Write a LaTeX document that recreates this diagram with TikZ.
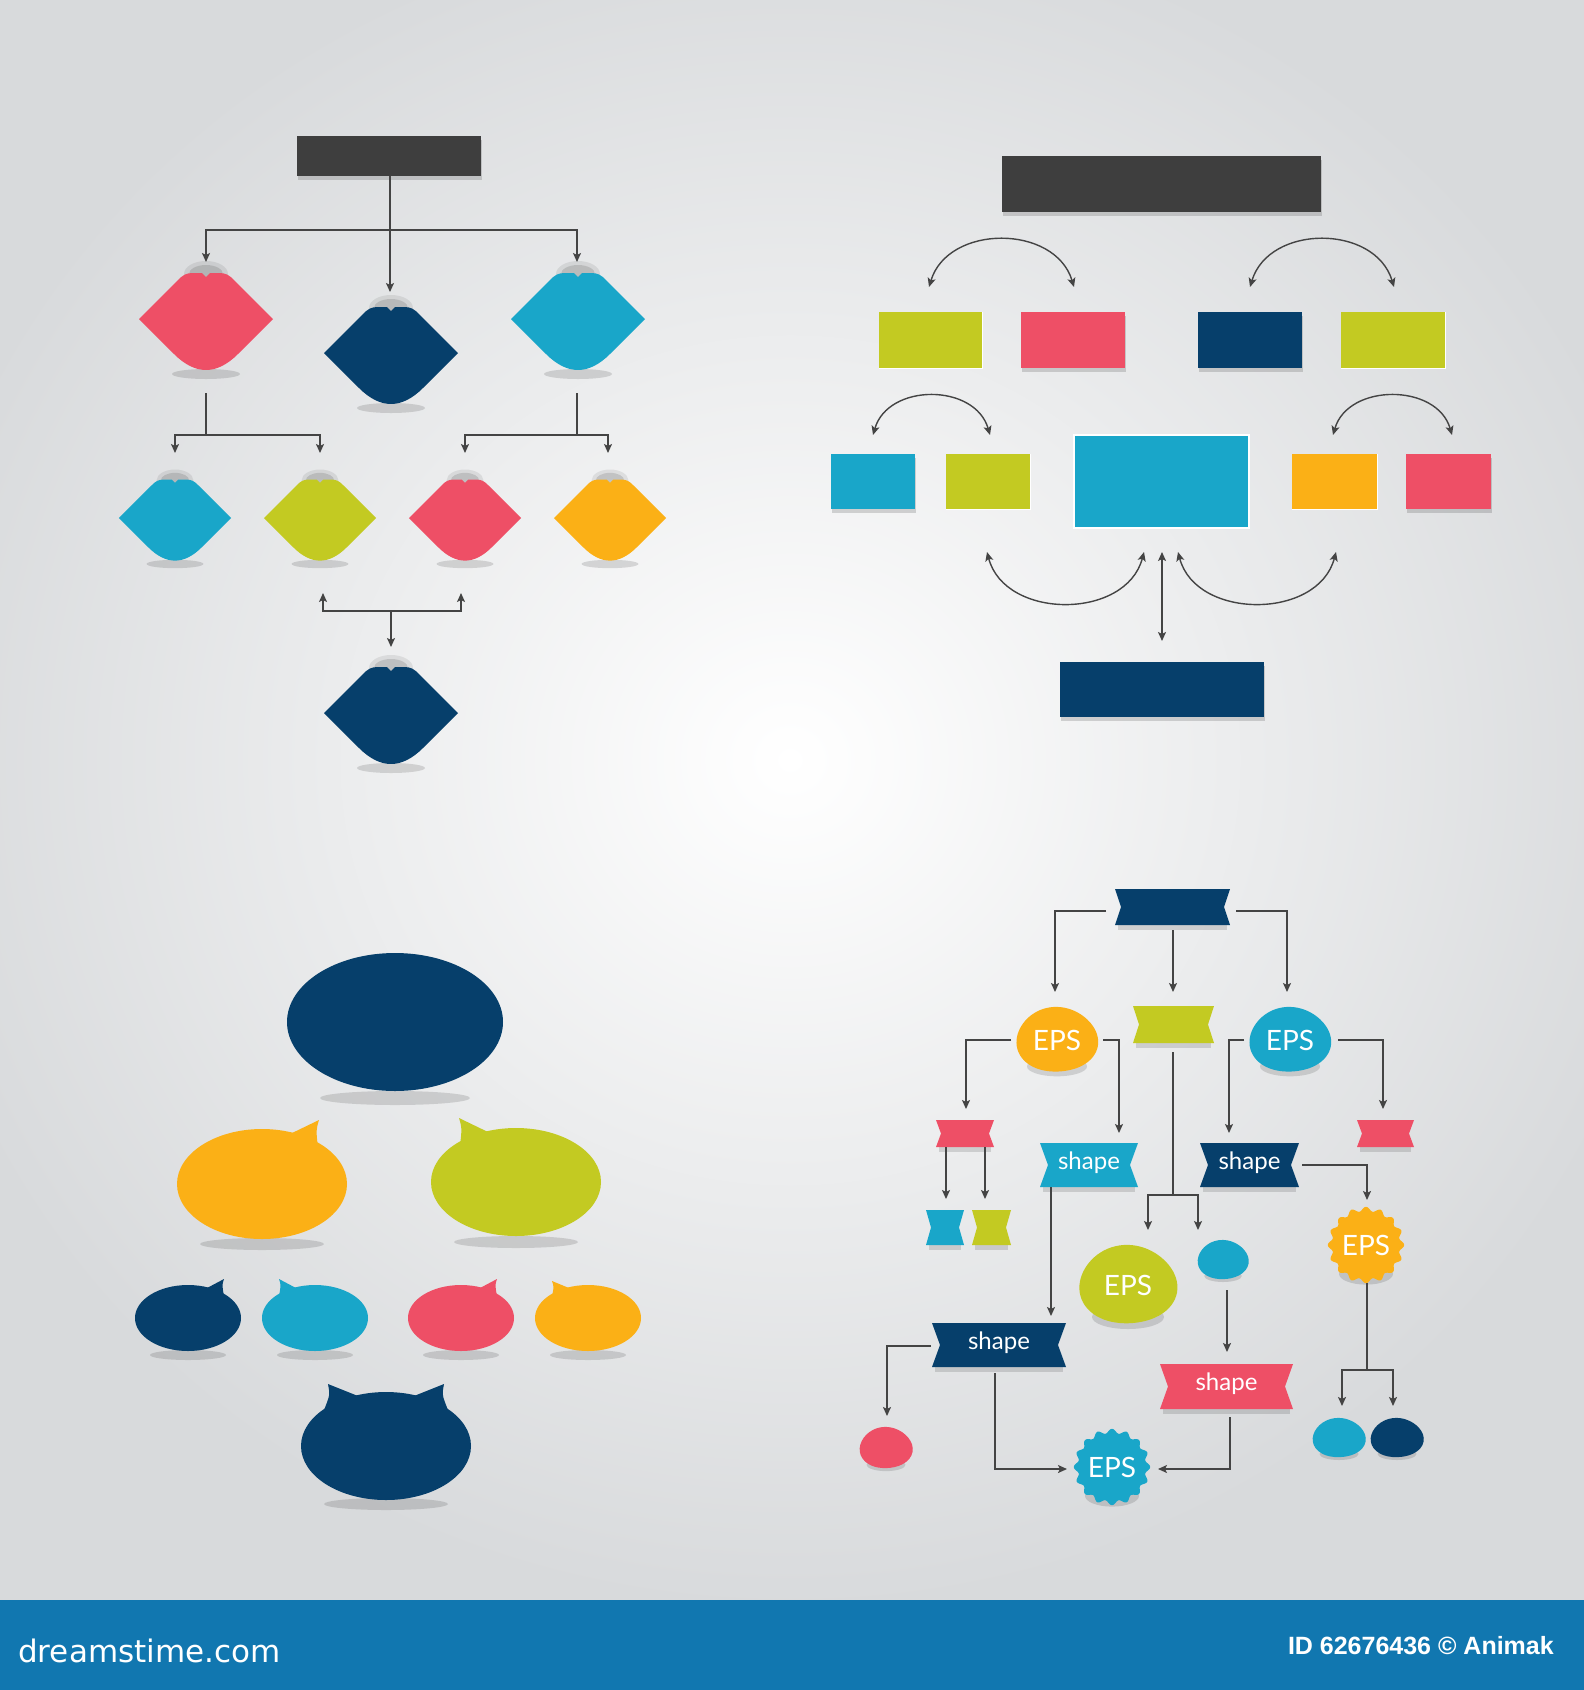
\documentclass[tikz,border=0pt]{standalone}
\usepackage{fontspec}
\setmainfont{Lato}
\newfontfamily\labfont{Lato}
\newfontfamily\logofont{DejaVu Sans}
\newfontfamily\idfont{Liberation Sans}
\usetikzlibrary{arrows.meta,calc}
\definecolor{cRed}{HTML}{EE4F66}
\definecolor{cNavy}{HTML}{063F6B}
\definecolor{cCyan}{HTML}{19A6C9}
\definecolor{cLime}{HTML}{C3CA22}
\definecolor{cOrange}{HTML}{FBB016}
\definecolor{cDark}{HTML}{3E3E3E}
\definecolor{cLine}{HTML}{444444}
\definecolor{cBg}{HTML}{D8DADC}
\definecolor{cBanner}{HTML}{1177B0}
\tikzset{
  tip/.tip={Stealth[length=9pt,width=8pt,inset=2pt]},
  arr/.style={draw=cLine, line width=1.6pt, -tip},
  darr/.style={draw=cLine, line width=1.4pt, tip-tip},
  ln/.style={draw=cLine, line width=1.6pt},
  box/.style={rectangle, inner sep=0pt, outer sep=0pt,
     preaction={fill=black, fill opacity=0.15, transform canvas={xshift=1pt,yshift=-4pt}}},
  inset/.style={rectangle, inner sep=0pt, outer sep=0pt,
     append after command={\pgfextra{\draw[white, line width=1.5pt]
        (\tikzlastnode.north east) -- (\tikzlastnode.south east) -- (\tikzlastnode.south west);}}},
  shd/.style={fill=black, fill opacity=0.13},
  eps/.style={text=white, font=\labfont\fontsize{28}{30}\selectfont, inner sep=0pt},
  shp/.style={text=white, font=\labfont\fontsize{24}{26}\selectfont, inner sep=0pt},
}
% lip diamond: cx, cy, scale, colour
\newcommand\lipdia[4]{%
  \begin{scope}[shift={(#1,#2)},scale=#3]
    \fill[shd] (0,55) ellipse [x radius=34pt, y radius=5pt];
    \fill[black, fill opacity=0.08] (0,-45) ellipse [x radius=22pt, y radius=13pt];
    \fill[black, fill opacity=0.12] (0,-45) ellipse [x radius=17pt, y radius=9pt];
    \fill[#4] (-67,0) -- (-28,-39) .. controls (-23,-44) and (-20,-46) .. (-13,-46)
      -- (-4,-46) -- (0,-42) -- (4,-46) -- (13,-46)
      .. controls (20,-46) and (23,-44) .. (28,-39) -- (67,0) -- (32,35)
      .. controls (10.7,56.3) and (-10.7,56.3) .. (-32,35) -- cycle;
  \end{scope}}
% ribbon banner: cx, cy, w, h, notch, colour
\newcommand\ribbon[6]{%
  \begin{scope}[shift={(#1,#2)}]
    \fill[shd] ({-#3/2+3},{#4/2-2}) rectangle ({#3/2-3},{#4/2+5});
    \fill[#6] ({-#3/2},{-#4/2}) -- ({#3/2},{-#4/2}) -- ({#3/2-#5},0) -- ({#3/2},{#4/2})
      -- ({-#3/2},{#4/2}) -- ({-#3/2+#5},0) -- cycle;
  \end{scope}}
% blob: cx, cy, rx, ry, colour
\newcommand\blob[5]{%
  \fill[shd] (#1,{#2+#4*0.8}) ellipse [x radius=0.75*#3pt, y radius=0.3*#4pt];
  \fill[#5] plot[smooth cycle, domain=0:350, samples=36, variable=\t]
    ({#1+#3*(1+0.025*sin(3*\t+20)+0.02*cos(2*\t))*cos(\t)},
     {#2+#4*(1+0.025*sin(3*\t+20)+0.02*cos(2*\t))*sin(\t)});}
% burst: cx, cy, r, colour
\newcommand\burst[4]{%
  \fill[shd] (#1,{#2+#3*0.8}) ellipse [x radius=0.75*#3pt, y radius=0.3*#3pt];
  \fill[#4] plot[domain=0:360, samples=145, variable=\t]
    ({#1+(#3+2.2*cos(16*\t))*cos(\t)}, {#2+(#3+2.2*cos(16*\t))*sin(\t)}) -- cycle;}
\begin{document}
\begin{tikzpicture}[x=1pt,y=-1pt]
\useasboundingbox (0,0) rectangle (1584,1690);
% background
\fill[cBg] (0,0) rectangle (1584,1600);
\begin{scope}
  \clip (0,0) rectangle (1584,1600);
  \shade[inner color=white, outer color=cBg] (790,760) ellipse [x radius=900pt, y radius=850pt];
\end{scope}
\fill[cBanner] (0,1600) rectangle (1584,1690);
\node[anchor=base west, text=white, font=\logofont\fontsize{31}{31}\selectfont, inner sep=0pt] (logo) at (18,1662) {dreamstime.com};
\node[anchor=base east, text=white, font=\idfont\bfseries\fontsize{25}{25}\selectfont, inner sep=0pt] (idtxt) at (1554,1654) {ID 62676436 © Animak};

% ================= top-left: diamonds =================
\node[box, fill=cDark, minimum width=184pt, minimum height=40pt] (tlTop) at (389,156) {};
\lipdia{206}{319}{1}{cRed}
\lipdia{391}{353}{1}{cNavy}
\lipdia{578}{319}{1}{cCyan}
\lipdia{175}{518}{0.836}{cCyan}
\lipdia{320}{518}{0.836}{cLime}
\lipdia{465}{518}{0.836}{cRed}
\lipdia{610}{518}{0.836}{cOrange}
\lipdia{391}{713}{1}{cNavy}
\coordinate (tlJ) at (390,230);
\coordinate (tlRedIn) at (206,262);
\coordinate (tlNavyIn) at (390,292);
\coordinate (tlCyanIn) at (577,262);
\draw[arr] (tlTop.south -| tlJ) -- (tlNavyIn);
\draw[arr] (tlJ) -| (tlRedIn);
\draw[arr] (tlJ) -| (tlCyanIn);
\coordinate (tlRedOut) at (206,393);
\coordinate (tlRJ) at (206,435);
\coordinate (c1In) at (175,453);
\coordinate (l1In) at (320,453);
\draw[ln] (tlRedOut) -- (tlRJ);
\draw[arr] (tlRJ) -| (c1In);
\draw[arr] (tlRJ) -| (l1In);
\coordinate (tlCyanOut) at (577,393);
\coordinate (tlCJ) at (577,435);
\coordinate (r2In) at (465,453);
\coordinate (o2In) at (608,453);
\draw[ln] (tlCyanOut) -- (tlCJ);
\draw[arr] (tlCJ) -| (r2In);
\draw[arr] (tlCJ) -| (o2In);
\coordinate (bJ) at (391,611);
\coordinate (l2Up) at (323,593);
\coordinate (r2Up) at (461,593);
\coordinate (bnIn) at (391,647);
\draw[arr] (bJ) -| (l2Up);
\draw[arr] (bJ) -| (r2Up);
\draw[arr] (bJ) -- (bnIn);

% ================= top-right: rectangles =================
\node[box, fill=cDark, minimum width=319pt, minimum height=56pt] (trTop) at (1161.5,184) {};
\node[inset, fill=cLime, minimum width=103pt, minimum height=56pt] (trL1) at (930.5,340) {};
\node[box, fill=cRed, minimum width=104pt, minimum height=56pt] (trR1) at (1073,340) {};
\node[box, fill=cNavy, minimum width=104pt, minimum height=56pt] (trN1) at (1250,340) {};
\node[inset, fill=cLime, minimum width=104pt, minimum height=56pt] (trL2) at (1393,340) {};
\node[box, fill=cCyan, minimum width=84pt, minimum height=55pt] (trC2) at (873,481.5) {};
\node[inset, fill=cLime, minimum width=84pt, minimum height=55pt] (trL3) at (988,481.5) {};
\node[rectangle, inner sep=0pt, fill=cCyan, draw=white, line width=1.5pt, minimum width=175pt, minimum height=93pt] (trBig) at (1161.5,481.5) {};
\node[inset, fill=cOrange, minimum width=85pt, minimum height=55pt] (trO2) at (1334.5,481.5) {};
\node[box, fill=cRed, minimum width=85pt, minimum height=55pt] (trR2) at (1448.5,481.5) {};
\node[box, fill=cNavy, minimum width=204pt, minimum height=55pt] (trBot) at (1162,689.5) {};
\coordinate (a1s) at (929,287);  \coordinate (a1e) at (1074,287);
\coordinate (a2s) at (1250,287); \coordinate (a2e) at (1394,287);
\coordinate (a3s) at (873,435);  \coordinate (a3e) at (990,435);
\coordinate (a4s) at (1333,435); \coordinate (a4e) at (1452,435);
\coordinate (a5s) at (987,552);  \coordinate (a5e) at (1144,552);
\coordinate (a6s) at (1178,552); \coordinate (a6e) at (1336,552);
\coordinate (v1s) at (1162,552); \coordinate (v1e) at (1162,641);
\draw[darr] (a1s) .. controls (948,224) and (1055,224) .. (a1e);
\draw[darr] (a2s) .. controls (1269,224) and (1375,224) .. (a2e);
\draw[darr] (a3s) .. controls (888,383) and (975,383) .. (a3e);
\draw[darr] (a4s) .. controls (1348,383) and (1437,383) .. (a4e);
\draw[darr] (a5s) .. controls (1005,620) and (1126,620) .. (a5e);
\draw[darr] (a6s) .. controls (1196,620) and (1318,620) .. (a6e);
\draw[darr] (v1s) -- (v1e);

% ================= bottom-left: speech bubbles =================
\fill[shd] (395,1098) ellipse [x radius=75pt, y radius=7pt];
\fill[cNavy] (395,1022) ellipse [x radius=108pt, y radius=69pt];
\fill[shd] (262,1244) ellipse [x radius=62pt, y radius=6pt];
\fill[cOrange] (262,1184) ellipse [x radius=85pt, y radius=55pt];
\fill[cOrange] (290,1134) -- (319,1120) .. controls (316,1130) .. (318,1148) -- cycle;
\fill[shd] (516,1242) ellipse [x radius=62pt, y radius=6pt];
\fill[cLime] (516,1182) ellipse [x radius=85pt, y radius=54pt];
\fill[cLime] (488,1132) -- (459,1118) .. controls (462,1128) .. (460,1146) -- cycle;
\foreach \cx in {188,315,461,588}{\fill[shd] (\cx,1355) ellipse [x radius=38pt, y radius=5pt];}
\fill[cNavy] (188,1318) ellipse [x radius=53pt, y radius=33pt];
\fill[cNavy] (207,1288) -- (224,1279) .. controls (222,1285) .. (224,1296) -- cycle;
\fill[cCyan] (315,1318) ellipse [x radius=53pt, y radius=33pt];
\fill[cCyan] (296,1288) -- (279,1279) .. controls (281,1285) .. (279,1296) -- cycle;
\fill[cRed] (461,1318) ellipse [x radius=53pt, y radius=33pt];
\fill[cRed] (480,1288) -- (497,1279) .. controls (495,1285) .. (497,1296) -- cycle;
\fill[cOrange] (588,1318) ellipse [x radius=53pt, y radius=33pt];
\fill[cOrange] (569,1288) -- (552,1281) .. controls (554,1287) .. (552,1296) -- cycle;
\fill[shd] (386,1504) ellipse [x radius=62pt, y radius=6pt];
\fill[cNavy] (386,1446) ellipse [x radius=85pt, y radius=54pt];
\fill[cNavy] (358,1396) -- (328,1384) .. controls (330,1395) .. (324,1410) -- cycle;
\fill[cNavy] (414,1396) -- (444,1384) .. controls (442,1395) .. (448,1410) -- cycle;

% ================= bottom-right: mixed flowchart =================
\ribbon{1172.5}{907}{115}{36}{6}{cNavy}
\ribbon{1173.5}{1024.5}{81}{37}{6}{cLime}
\ribbon{965}{1133.5}{58}{27}{5}{cRed}
\ribbon{1385.5}{1133.5}{57}{27}{5}{cRed}
\ribbon{1089}{1165}{98}{44}{8}{cCyan}
\ribbon{1249.5}{1165}{99}{44}{8}{cNavy}
\ribbon{999}{1345}{134}{44}{8}{cNavy}
\ribbon{1226.5}{1386.5}{133}{45}{8}{cRed}
\ribbon{945}{1227.5}{38}{35}{5}{cCyan}
\ribbon{991.5}{1227.5}{39}{35}{5}{cLime}
\blob{1057}{1040}{40}{33}{cOrange}
\blob{1290}{1040}{40}{33}{cCyan}
\blob{1128}{1285}{48}{40}{cLime}
\blob{1223}{1260}{25}{20}{cCyan}
\blob{886}{1448}{26}{21}{cRed}
\blob{1339}{1438}{26}{20}{cCyan}
\blob{1397}{1438}{26}{20}{cNavy}
\burst{1366}{1245}{36}{cOrange}
\burst{1112}{1467}{36}{cCyan}
\node[eps] (epsO) at (1057,1040) {EPS};
\node[eps] (epsC) at (1290,1040) {EPS};
\node[eps] (epsL) at (1128,1285) {EPS};
\node[eps] (epsB1) at (1366,1245) {EPS};
\node[eps] (epsB2) at (1112,1467) {EPS};
\node[shp] (shC) at (1089,1163) {shape};
\node[shp] (shN) at (1249.5,1163) {shape};
\node[shp] (shN2) at (999,1343) {shape};
\node[shp] (shR) at (1226.5,1384) {shape};
% connectors
\coordinate (b0L) at (1106,911);   \coordinate (eOin) at (1055,992);
\coordinate (b0M) at (1173,930);   \coordinate (lbIn) at (1173,992);
\coordinate (b0R) at (1236,911);   \coordinate (eCin) at (1287,992);
\draw[arr] (b0L) -| (eOin);
\draw[arr] (b0M) -- (lbIn);
\draw[arr] (b0R) -| (eCin);
\coordinate (eOL) at (1011,1040);  \coordinate (rsIn) at (966,1109);
\coordinate (eOR) at (1103,1040);  \coordinate (scIn) at (1119,1133);
\coordinate (eCL) at (1244,1040);  \coordinate (snIn) at (1229,1133);
\coordinate (eCR) at (1338,1040);  \coordinate (rs2In) at (1383,1109);
\draw[arr] (eOL) -| (rsIn);
\draw[arr] (eOR) -| (scIn);
\draw[arr] (eCL) -| (snIn);
\draw[arr] (eCR) -| (rs2In);
\coordinate (lbOut) at (1173,1052); \coordinate (lbJ) at (1173,1195);
\coordinate (elIn) at (1148,1230);  \coordinate (ecIn) at (1198,1230);
\draw[ln] (lbOut) -- (lbJ);
\draw[arr] (lbJ) -| (elIn);
\draw[arr] (lbJ) -| (ecIn);
\coordinate (rsO1) at (946,1147);  \coordinate (hgC) at (946,1199);
\coordinate (rsO2) at (985,1147);  \coordinate (hgL) at (985,1199);
\draw[arr] (rsO1) -- (hgC);
\draw[arr] (rsO2) -- (hgL);
\coordinate (scOut) at (1051,1187); \coordinate (sn2In) at (1051,1316);
\draw[arr] (scOut) -- (sn2In);
\coordinate (snOut) at (1302,1165); \coordinate (bOIn) at (1367,1200);
\draw[arr] (snOut) -| (bOIn);
\coordinate (ecOut) at (1227,1290); \coordinate (srIn) at (1227,1352);
\draw[arr] (ecOut) -- (srIn);
\coordinate (bOOut) at (1367,1283); \coordinate (bOJ) at (1367,1370);
\coordinate (bcIn) at (1342,1406);  \coordinate (bnIn2) at (1393,1406);
\draw[ln] (bOOut) -- (bOJ);
\draw[arr] (bOJ) -| (bcIn);
\draw[arr] (bOJ) -| (bnIn2);
\coordinate (sn2L) at (931,1346);  \coordinate (rbIn) at (887,1416);
\draw[arr] (sn2L) -| (rbIn);
\coordinate (sn2D) at (995,1373);  \coordinate (bcL) at (1067,1469);
\draw[arr] (sn2D) |- (bcL);
\coordinate (srD) at (1230,1417);  \coordinate (bcR) at (1158,1469);
\draw[arr] (srD) |- (bcR);
\end{tikzpicture}
\end{document}
